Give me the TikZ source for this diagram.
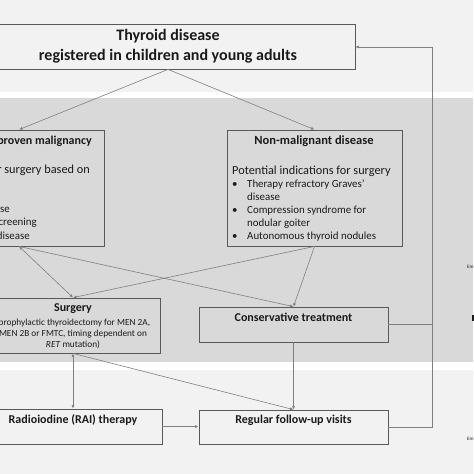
\documentclass[tikz,border=0pt]{standalone}
\usepackage{fontspec}
\setmainfont{Carlito}
\usepackage{xcolor}
\usetikzlibrary{arrows.meta, positioning}
\definecolor{bandlight}{HTML}{F2F2F2}
\definecolor{banddark}{HTML}{D9D9D9}
\definecolor{boxline}{HTML}{595959}
\definecolor{linkline}{HTML}{808080}
\definecolor{inktext}{HTML}{1A1A1A}

\begin{document}
\begin{tikzpicture}[x=1pt, y=-1pt,
        box/.style={rectangle, draw=boxline, line width=0.8pt, inner sep=0pt},
        lightbox/.style={box, fill=bandlight},
        darkbox/.style={box, fill=banddark},
        title/.style={font=\fontsize{12}{14}\selectfont\bfseries, text=inktext, inner sep=0pt},
        body/.style={font=\fontsize{9.3}{11}\selectfont, text=inktext, inner sep=0pt},
        relation/.style={-{Latex[length=3.5pt, width=3pt]}, draw=linkline, line width=0.6pt},
        twoway/.style={{Latex[length=3.5pt, width=3pt]}-{Latex[length=3.5pt, width=3pt]}, draw=linkline, line width=0.6pt},
        link/.style={draw=linkline, line width=0.6pt}
    ]
    \useasboundingbox (0,0) rectangle (474,474);
    \clip (0,0) rectangle (474,474);

    % Background bands
    \fill[bandlight] (0,0) rectangle (473,92);
    \fill[banddark] (0,98) rectangle (473,362);
    \fill[bandlight] (0,370) rectangle (473,474);

    % Boxes
    \node[lightbox, minimum width=374pt, minimum height=45pt, align=center, text=inktext,
          font=\fontsize{16}{20}\selectfont\bfseries] (thyroid) at (168,46.5)
          {Thyroid disease\\registered in children and young adults};
    \node[darkbox, minimum width=170pt, minimum height=116pt] (malig) at (19,188) {};
    \node[darkbox, minimum width=175pt, minimum height=116pt] (nonmalig) at (314.5,188) {};
    \node[darkbox, minimum width=174pt, minimum height=55pt] (surgery) at (73,325.5) {};
    \node[darkbox, minimum width=189pt, minimum height=35pt] (conservative) at (293.5,324.5) {};
    \node[lightbox, minimum width=178pt, minimum height=35pt] (rai) at (73,426.5) {};
    \node[lightbox, minimum width=189pt, minimum height=34pt] (followup) at (293.5,427) {};

    % Malignancy box (cut at the left edge)
    \node[title, anchor=east] at (92,141) {proven malignancy};
    \node[body, font=\fontsize{12.3}{14}\selectfont, anchor=east] at (90,170) {r surgery based on};
    \node[body, font=\fontsize{10.9}{13}\selectfont, anchor=east] at (10,210) {se};
    \node[body, font=\fontsize{10.9}{13}\selectfont, anchor=east] at (37,223) {creening};
    \node[body, font=\fontsize{10.9}{13}\selectfont, anchor=east] at (30,236) {disease};

    % Non-malignant box
    \node[title, font=\fontsize{12.5}{15}\selectfont\bfseries] (nmtitle) at (314,141) {Non-malignant disease};
    \node[body, font=\fontsize{10.9}{13}\selectfont, anchor=north west] (nmlist) at (232,165) {%
        \begin{tabular}{@{}p{15pt}@{}l@{}}
            \multicolumn{2}{@{}l@{}}{\fontsize{12.3}{14}\selectfont Potential indications for surgery}\\
            \textbullet & Therapy refractory Graves’\\
                        & disease\\
            \textbullet & Compression syndrome for\\
                        & nodular goiter\\
            \textbullet & Autonomous thyroid nodules
        \end{tabular}};

    % Surgery box
    \node[title] (sgtitle) at (73,309) {Surgery};
    \node[body, align=center] (sgtext) at (73,334)
          {(prophylactic thyroidectomy for MEN 2A,\\MEN 2B or FMTC, timing dependent on\\\textit{RET} mutation)};

    % Other titles
    \node[title] (cttitle) at (293.5,317) {Conservative treatment};
    \node[title] (raititle) at (73,420) {Radioiodine (RAI) therapy};
    \node[title] (futitle) at (293.5,420) {Regular follow-up visits};

    % Cut texts at the right edge
    \node[body, font=\fontsize{5}{6}\selectfont, anchor=west] (emtop) at (467,267) {Em};
    \node[body, font=\fontsize{5}{6}\selectfont, anchor=west] (embot) at (467,439) {Em};
    \fill[inktext] (471.5,315) rectangle (474,321);

    % Relations
    \draw[relation] (thyroid.south) -- (malig.north);
    \draw[relation] (thyroid.south) -- (nonmalig.north);
    \draw[twoway] (malig.south) -- (surgery.north);
    \draw[relation] (malig.south) -- (conservative.north);
    \draw[relation] (nonmalig.south) -- (surgery.north);
    \draw[relation] (nonmalig.south) -- (conservative.north);
    \draw[twoway] (surgery.south) -- (rai.north);
    \draw[relation] (surgery.south) -- (followup.north);
    \draw[relation] (conservative.south) -- (followup.north);
    \draw[relation] (rai.east) -- (rai.east -| followup.west);

    % Feedback loop
    \coordinate (loop) at (432,47);
    \draw[link] (conservative.east) -- (conservative.east -| loop);
    \draw[relation] (followup.east) -| (loop) -- (loop -| thyroid.east);
\end{tikzpicture}
\end{document}
